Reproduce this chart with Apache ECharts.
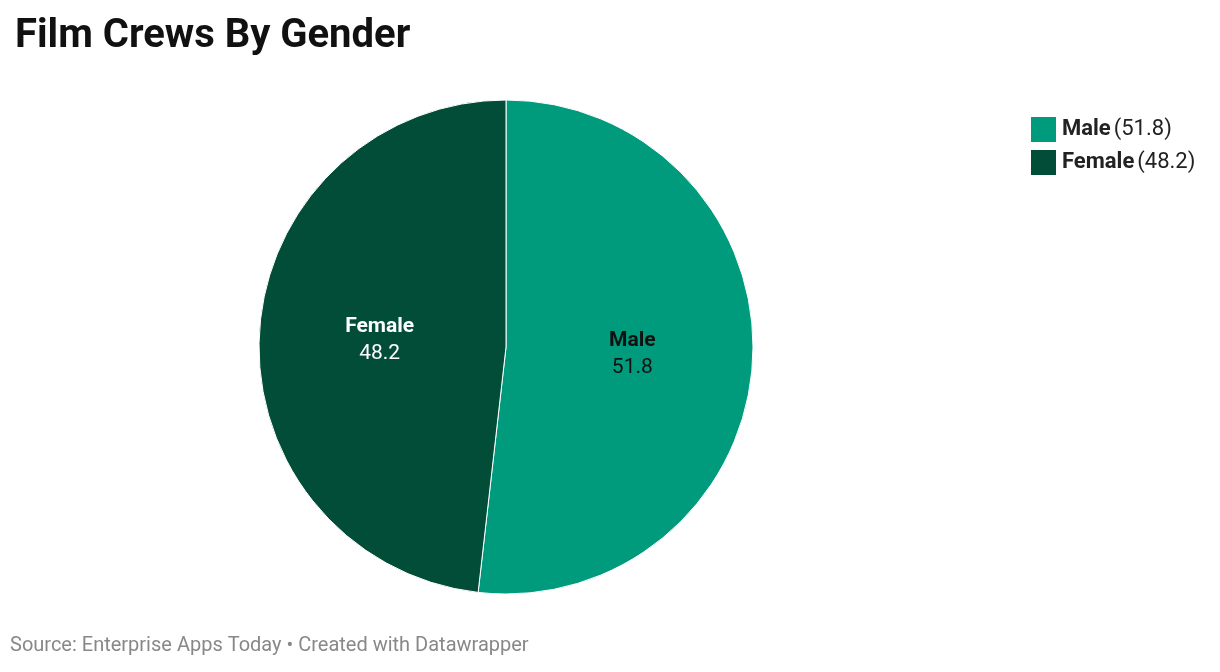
<!DOCTYPE html>
<html>
<head>
<meta charset="utf-8">
<script src="https://cdn.jsdelivr.net/npm/echarts@6/dist/echarts.min.js"></script>
<style>
  html, body { margin: 0; padding: 0; background: #fff; }
  #chart { width: 1220px; height: 672px; }
</style>
</head>
<body>
<div id="chart"></div>
<script>
const categories = ["Male", "Female"];
const values = [51.8, 48.2];
const colors = ["#009a7c", "#024d37"];
const labelColors = ["#111", "#fff"];

const chart = echarts.init(document.getElementById("chart"));

const data = categories.map((name, i) => ({
  name: name,
  value: values[i],
  itemStyle: { color: colors[i] },
  label: { color: labelColors[i] }
}));

chart.setOption({
  animation: false,
  textStyle: { fontFamily: "Roboto" },
  title: {
    text: "Film Crews By Gender",
    left: 10,
    top: 12,
    textStyle: { fontSize: 40, fontWeight: "bold", color: "#111", fontFamily: "Roboto" }
  },
  graphic: [{
    type: "text",
    left: 10,
    top: 636,
    style: {
      text: "Source: Enterprise Apps Today • Created with Datawrapper",
      fill: "#888",
      font: "20px Roboto"
    }
  }],
  legend: {
    orient: "vertical",
    left: 1024,
    top: 110,
    itemWidth: 27,
    itemHeight: 27,
    itemGap: 4,
    icon: "rect",
    selectedMode: false,
    formatter: function (name) {
      const i = categories.indexOf(name);
      return "{b|" + name + "} {n|(" + values[i] + ")}";
    },
    textStyle: {
      rich: {
        b: { fontSize: 22, fontWeight: "bold", color: "#222", fontFamily: "Roboto" },
        n: { fontSize: 22, color: "#222", fontFamily: "Roboto" }
      }
    }
  },
  series: [{
    type: "pie",
    center: [506, 347],
    radius: [0, 247],
    startAngle: 90,
    clockwise: true,
    data: data,
    itemStyle: { borderColor: "#fff", borderWidth: 1 },
    label: {
      position: "inside",
      formatter: function (p) { return "{b|" + p.name + "}\n{n|" + p.value + "}"; },
      rich: {
        b: { fontSize: 21, fontWeight: "bold", lineHeight: 27, fontFamily: "Roboto" },
        n: { fontSize: 21, lineHeight: 27, fontFamily: "Roboto" }
      }
    },
    labelLine: { show: false },
    emphasis: { disabled: true }
  }]
});
</script>
</body>
</html>
